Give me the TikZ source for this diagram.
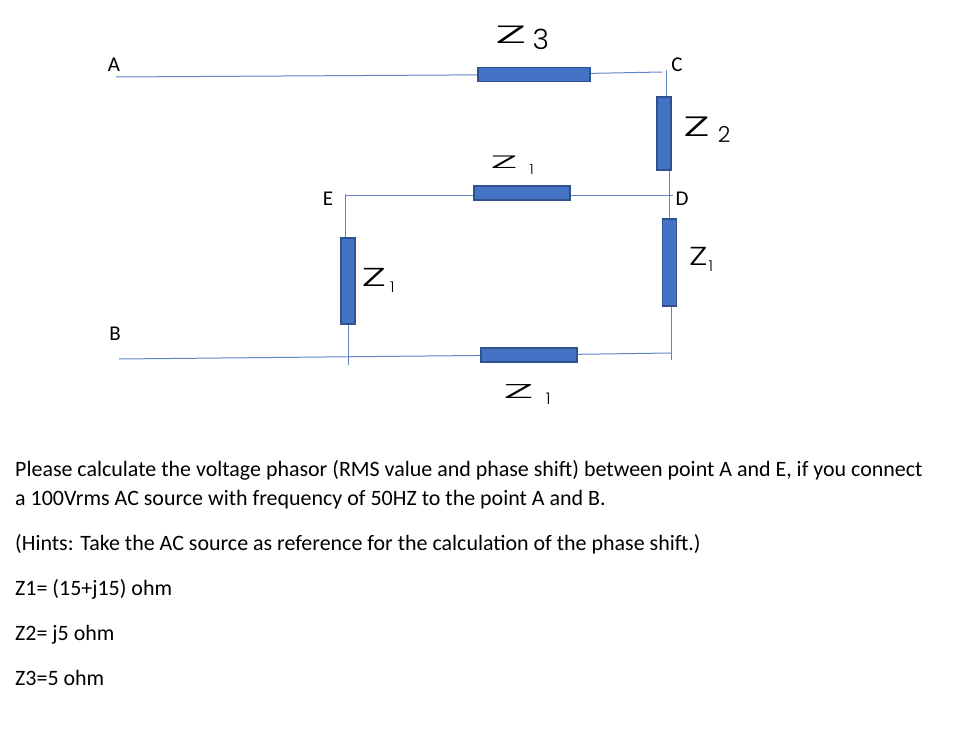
\documentclass[tikz,border=0pt]{standalone}
\usepackage{fontspec}
\setmainfont{Carlito}
\newfontfamily\handfont{Poppins Light}
\usetikzlibrary{positioning}
\definecolor{wireblue}{HTML}{5F85CA}
\definecolor{barfill}{HTML}{4472C4}
\definecolor{barline}{HTML}{2F528F}
\newcommand{\handz}[3]{{\fontsize{#1}{#1}\selectfont\scalebox{#2}[1]{Z}}#3}
\newcommand{\handsub}[3]{\kern#1pt{\fontsize{#2}{#2}\selectfont\raisebox{-6pt}{#3}}}

\begin{document}
\begin{tikzpicture}[x=1pt,y=-1pt,wire/.style={draw=wireblue,line width=1pt},
        hbar/.style={draw=barline,fill=barfill,line width=1.3pt,inner sep=0pt,minimum width=#1,minimum height=14pt},
        vbar/.style={draw=barline,fill=barfill,line width=1.3pt,inner sep=0pt,minimum width=14pt,minimum height=#1},
        pointlabel/.style={font=\fontsize{21}{21}\selectfont,inner sep=0pt},
        handlabel/.style={font=\handfont,inner sep=0pt,anchor=center},
        textline/.style={font=\fontsize{21.95}{22}\selectfont,inner sep=0pt,anchor=base west}]

  \useasboundingbox (0,0) rectangle (975,746);

  \node[hbar=112pt] (z_top) at (534,74.5) {};
  \node[vbar=73pt] (z_cd) at (664,133.5) {};
  \node[hbar=96pt] (z_mid) at (522,193) {};
  \node[vbar=87pt] (z_right) at (669.5,262.5) {};
  \node[vbar=86pt] (z_left) at (348,281) {};
  \node[hbar=96pt] (z_bot) at (529,355) {};

  \coordinate (a_end) at (116,77);
  \coordinate (b_end) at (119,359);
  \coordinate (c_top) at (666.5,70);
  \coordinate (c_left) at (662,72);
  \coordinate (d_top) at (673,196);
  \coordinate (d_low) at (669,212);
  \coordinate (e_left) at (345,196);
  \coordinate (e_top) at (345.5,194);
  \coordinate (f_low) at (348.5,365);
  \coordinate (g_low) at (671,360);
  \coordinate (g_side) at (671,353);

  \path[wire] (a_end) edge (z_top)
        (z_top) edge (c_left)
        (c_top) edge (z_cd.north -| c_top)
        (z_cd.south -| d_low) edge (d_low)
        (e_left) edge (z_mid.west |- e_left)
        (z_mid.east |- d_top) edge (d_top)
        (d_low) edge (z_right.north -| d_low)
        (e_top) edge (z_left.north -| e_top)
        (z_left.south -| f_low) edge (f_low)
        (b_end) edge (z_bot)
        (z_bot) edge (g_side)
        (z_right.south -| g_low) edge (g_low);

  \node[pointlabel] (lbl_a) at (114,65) {A};
  \node[pointlabel] (lbl_b) at (115,334) {B};
  \node[pointlabel] (lbl_c) at (677,65) {C};
  \node[pointlabel] (lbl_d) at (682,199) {D};
  \node[pointlabel] (lbl_e) at (328,199) {E};

  \node[handlabel] (hand_top) at (522,38) {\handz{25}{2.4}{\handsub{6}{28}{3}}};
  \node[handlabel] (hand_cd) at (707,130) {\handz{28}{1.8}{\handsub{8}{22}{2}}};
  \node[handlabel] (hand_mid) at (512,165) {\handz{18}{2.9}{\handsub{12}{14}{1}}};
  \node[handlabel] (hand_right) at (701,259) {\handz{26}{1.35}{\handsub{1}{15}{1}}};
  \node[handlabel] (hand_left) at (378,280) {\handz{26}{1.8}{\handsub{4}{15}{1}}};
  \node[handlabel] (hand_bot) at (527,395) {\handz{20}{2.9}{\handsub{12}{16}{1}}};

  \node[textline] (line_1) at (15,476) {Please calculate the voltage phasor (RMS value and phase shift) between point A and E, if you connect};
  \node[textline] (line_2) at (15,505) {a 100Vrms AC source with frequency of 50HZ to the point A and B.};
  \node[textline] (line_3) at (15,550) {(Hints: Take the AC source as reference for the calculation of the phase shift.)};
  \node[textline] (line_4) at (15,595) {Z1= (15+j15) ohm};
  \node[textline] (line_5) at (15,640) {Z2= j5 ohm};
  \node[textline] (line_6) at (15,685) {Z3=5 ohm};

\end{tikzpicture}
\end{document}
